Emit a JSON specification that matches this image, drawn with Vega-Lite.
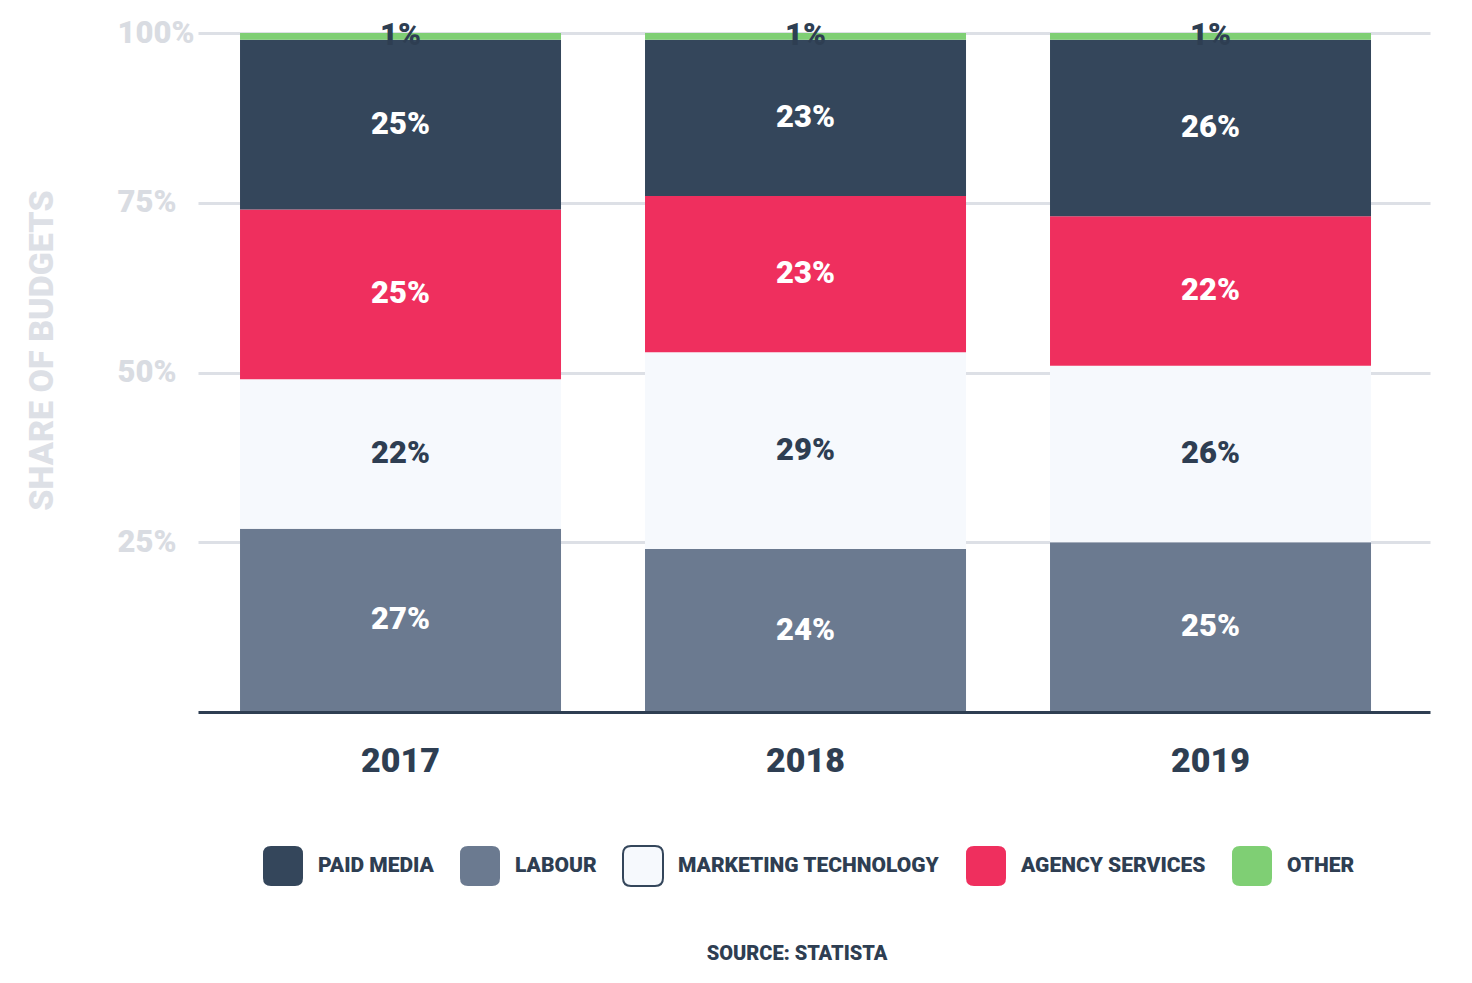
{
  "$schema": "https://vega.github.io/schema/vega-lite/v6.json",
  "autosize": {"type": "none"},
  "padding": {"left": 198, "top": 33, "right": 42, "bottom": 271},
  "width": 1232,
  "height": 679,
  "background": "#ffffff",
  "config": {
    "view": {"stroke": null},
    "font": "Roboto, sans-serif"
  },
  "title": {
    "text": "SOURCE: STATISTA",
    "orient": "bottom",
    "anchor": "middle",
    "fontSize": 20,
    "fontWeight": 900,
    "color": "#2e3e52",
    "offset": 54,
    "dx": -17
  },
  "data": {
    "values": [
      {"year": "2017", "category": "LABOUR", "order": 1, "value": 27},
      {"year": "2017", "category": "MARKETING TECHNOLOGY", "order": 2, "value": 22},
      {"year": "2017", "category": "AGENCY SERVICES", "order": 3, "value": 25},
      {"year": "2017", "category": "PAID MEDIA", "order": 4, "value": 25},
      {"year": "2017", "category": "OTHER", "order": 5, "value": 1},
      {"year": "2018", "category": "LABOUR", "order": 1, "value": 24},
      {"year": "2018", "category": "MARKETING TECHNOLOGY", "order": 2, "value": 29},
      {"year": "2018", "category": "AGENCY SERVICES", "order": 3, "value": 23},
      {"year": "2018", "category": "PAID MEDIA", "order": 4, "value": 23},
      {"year": "2018", "category": "OTHER", "order": 5, "value": 1},
      {"year": "2019", "category": "LABOUR", "order": 1, "value": 25},
      {"year": "2019", "category": "MARKETING TECHNOLOGY", "order": 2, "value": 26},
      {"year": "2019", "category": "AGENCY SERVICES", "order": 3, "value": 22},
      {"year": "2019", "category": "PAID MEDIA", "order": 4, "value": 26},
      {"year": "2019", "category": "OTHER", "order": 5, "value": 1}
    ]
  },
  "transform": [
    {"stack": "value", "groupby": ["year"], "sort": [{"field": "order", "order": "ascending"}], "as": ["y0", "y1"]},
    {"calculate": "(datum.y0 + datum.y1) / 2", "as": "mid"},
    {"calculate": "datum.value + '%'", "as": "label"}
  ],
  "encoding": {
    "x": {
      "field": "year",
      "type": "nominal",
      "scale": {"paddingInner": 0.2074, "paddingOuter": 0.1247, "align": 0.416},
      "axis": {
        "title": null,
        "labelAngle": 0,
        "labelFontSize": 34,
        "labelFontWeight": 900,
        "labelColor": "#2e3e52",
        "labelPadding": 32,
        "ticks": false,
        "domainColor": "#2e3e52",
        "domainWidth": 3,
        "grid": false,
        "zindex": 1
      }
    }
  },
  "layer": [
    {
      "mark": {"type": "bar"},
      "encoding": {
        "y": {
          "field": "y0",
          "type": "quantitative",
          "scale": {"domain": [0, 100], "nice": false},
          "axis": {
            "title": "SHARE OF BUDGETS",
            "titleFontSize": 34,
            "titleFontWeight": 900,
            "titleColor": "#dde0e6",
            "titleAngle": -90,
            "titleX": -156,
            "titleY": 317,
            "titleAlign": "center",
            "titleBaseline": "middle",
            "values": [25, 50, 75, 100],
            "labelExpr": "datum.value + '%'",
            "labelFontSize": 31,
            "labelFontWeight": 900,
            "labelColor": "#d9dce2",
            "labelAlign": "left",
            "labelPadding": 81,
            "ticks": false,
            "tickSize": 0,
            "domain": false,
            "grid": true,
            "gridColor": "#dde0e6",
            "gridWidth": 3
          }
        },
        "y2": {"field": "y1"},
        "color": {
          "field": "category",
          "type": "nominal",
          "scale": {
            "domain": ["PAID MEDIA", "LABOUR", "MARKETING TECHNOLOGY", "AGENCY SERVICES", "OTHER"],
            "range": ["#34465b", "#6b7a90", "#f6f9fd", "#ef2f5e", "#7fcf74"]
          },
          "legend": {
            "title": null,
            "orient": "none",
            "direction": "horizontal",
            "legendX": 64,
            "legendY": 812,
            "symbolType": "M -0.6 -1 L 0.6 -1 Q 1 -1 1 -0.6 L 1 0.6 Q 1 1 0.6 1 L -0.6 1 Q -1 1 -1 0.6 L -1 -0.6 Q -1 -1 -0.6 -1 Z",
            "symbolSize": 1600,
            "symbolOpacity": 1,
            "labelFontSize": 21,
            "labelFontWeight": 900,
            "labelColor": "#2e3e52",
            "labelOffset": 14,
            "columnPadding": 22,
            "labelLimit": 400,
            "encode": {
              "symbols": {
                "update": {
                  "stroke": {"signal": "datum.value === 'MARKETING TECHNOLOGY' ? '#34465b' : 'transparent'"},
                  "strokeWidth": {"value": 2}
                }
              }
            }
          }
        }
      }
    },
    {
      "mark": {"type": "text", "fontSize": 31, "fontWeight": 900, "baseline": "middle", "align": "center"},
      "encoding": {
        "y": {"field": "mid", "type": "quantitative"},
        "text": {"field": "label"},
        "color": {
          "condition": {"test": "datum.category === 'MARKETING TECHNOLOGY' || datum.category === 'OTHER'", "value": "#2e3e52"},
          "value": "#ffffff"
        }
      }
    }
  ]
}
